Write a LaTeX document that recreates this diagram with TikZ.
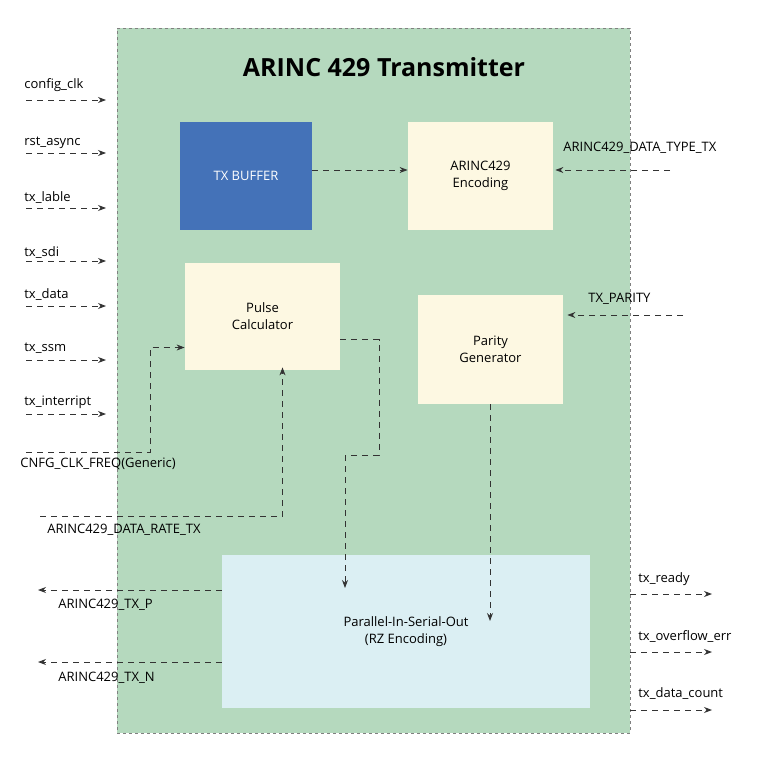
\documentclass[tikz,border=0pt]{standalone}
\usepackage{fontspec}
\setmainfont{Open Sans}
\usetikzlibrary{arrows.meta,positioning}
\definecolor{bggreen}{HTML}{B5D9BE}
\definecolor{bufblue}{HTML}{4472B8}
\definecolor{blkcream}{HTML}{FDF8E2}
\definecolor{pisoblue}{HTML}{DBEFF3}

\begin{document}
\begin{tikzpicture}[
        x=1pt, y=-1pt,
        every path/.style={thick},
        block/.style={draw=none, fill=blkcream, align=center, font=\fontsize{13}{17}\selectfont},
        sig/.style={dashed, dash pattern=on 6pt off 5pt, -{Stealth[length=8pt,width=6pt]}, line width=0.9pt, draw=black!80},
        lbl/.style={anchor=west, inner sep=0pt, font=\fontsize{13}{15}\selectfont}
    ]
    \useasboundingbox (0,0) rectangle (768,768);

    % Frame
    \node (frame) [draw=gray, dashed, fill=bggreen, minimum width=513pt, minimum height=705pt, inner sep=0pt]
        at (373.5,380.5) {};
    \node (title) at (384,67) {\fontsize{25}{30}\selectfont\bfseries ARINC 429 Transmitter};

    % Blocks
    \node (buf)[block, fill=bufblue, text=white, minimum width=132pt, minimum height=108pt] at (246,176) {TX BUFFER};
    \node (enc)[block, minimum width=145pt, minimum height=108pt] at (480.5,176) {ARINC429\\Encoding};
    \node (pulse)[block, minimum width=155pt, minimum height=107pt] at (262.5,316.5) {Pulse\\Calculator};
    \node (par)[block, minimum width=145pt, minimum height=109pt] at (490.5,349.5) {Parity\\Generator};
    \node (piso)[block, fill=pisoblue, minimum width=368pt, minimum height=153pt] at (406,631.5) {Parallel-In-Serial-Out\\(RZ Encoding)};

    % Left inputs
    \foreach \name/\ly/\ay in {config\_clk/85/100, rst\_async/143/153, tx\_lable/198/208, tx\_sdi/253/261,
                               tx\_data/295/306, tx\_ssm/348/360, tx\_interript/402/414} {
        \node[lbl] at (24,\ly) {\name};
        \coordinate (a) at (26,\ay);
        \coordinate (b) at (106,\ay);
        \draw[sig] (a) -- (b);
    }

    % Generic and data rate
    \coordinate (cfgin) at (26,452);
    \node[lbl] (cfglbl) at (20,464) {CNFG\_CLK\_FREQ(Generic)};
    \draw[sig] (cfgin) -- (150,452) |- ([yshift=-31pt]pulse.west);
    \coordinate (ratein) at (40,516);
    \node[lbl] (ratelbl) at (47,530) {ARINC429\_DATA\_RATE\_TX};
    \draw[sig] (ratein) -| ([xshift=20pt,yshift=3pt]pulse.south);

    % Internal paths
    \draw[sig] (buf.east |- 0,170) -- (enc.west |- 0,170);
    \draw[sig, -] ([yshift=-23pt]pulse.east) -| (379,455) -- (345,455);
    \coordinate (pisoA) at (345,588);
    \draw[sig] (345,455) -- (pisoA);
    \coordinate (pisoB) at (490,621);
    \draw[sig] (par.south -| pisoB) -- (pisoB);

    % Right inputs
    \coordinate (dtin) at (670,170);
    \node[lbl] at (563,148) {ARINC429\_DATA\_TYPE\_TX};
    \draw[sig] (dtin) -- ([xshift=2pt]enc.east |- dtin);
    \coordinate (parin) at (683,315);
    \node[lbl] at (588,299) {TX\_PARITY};
    \draw[sig] (parin) -- ([xshift=4pt]par.east |- parin);

    % Outputs
    \coordinate (txp) at (38,590);
    \coordinate (txn) at (38,662);
    \draw[sig] (piso.west |- txp) -- (txp);
    \draw[sig] (piso.west |- txn) -- (txn);
    \node[lbl] at (58,605) {ARINC429\_TX\_P};
    \node[lbl] at (58,678) {ARINC429\_TX\_N};
    \foreach \name/\ly/\ay in {tx\_ready/579/594, tx\_overflow\_err/637/652, tx\_data\_count/694/710} {
        \node[lbl] at (638,\ly) {\name};
        \coordinate (o) at (712,\ay);
        \draw[sig] (frame.east |- o) -- (o);
    }
\end{tikzpicture}
\end{document}
